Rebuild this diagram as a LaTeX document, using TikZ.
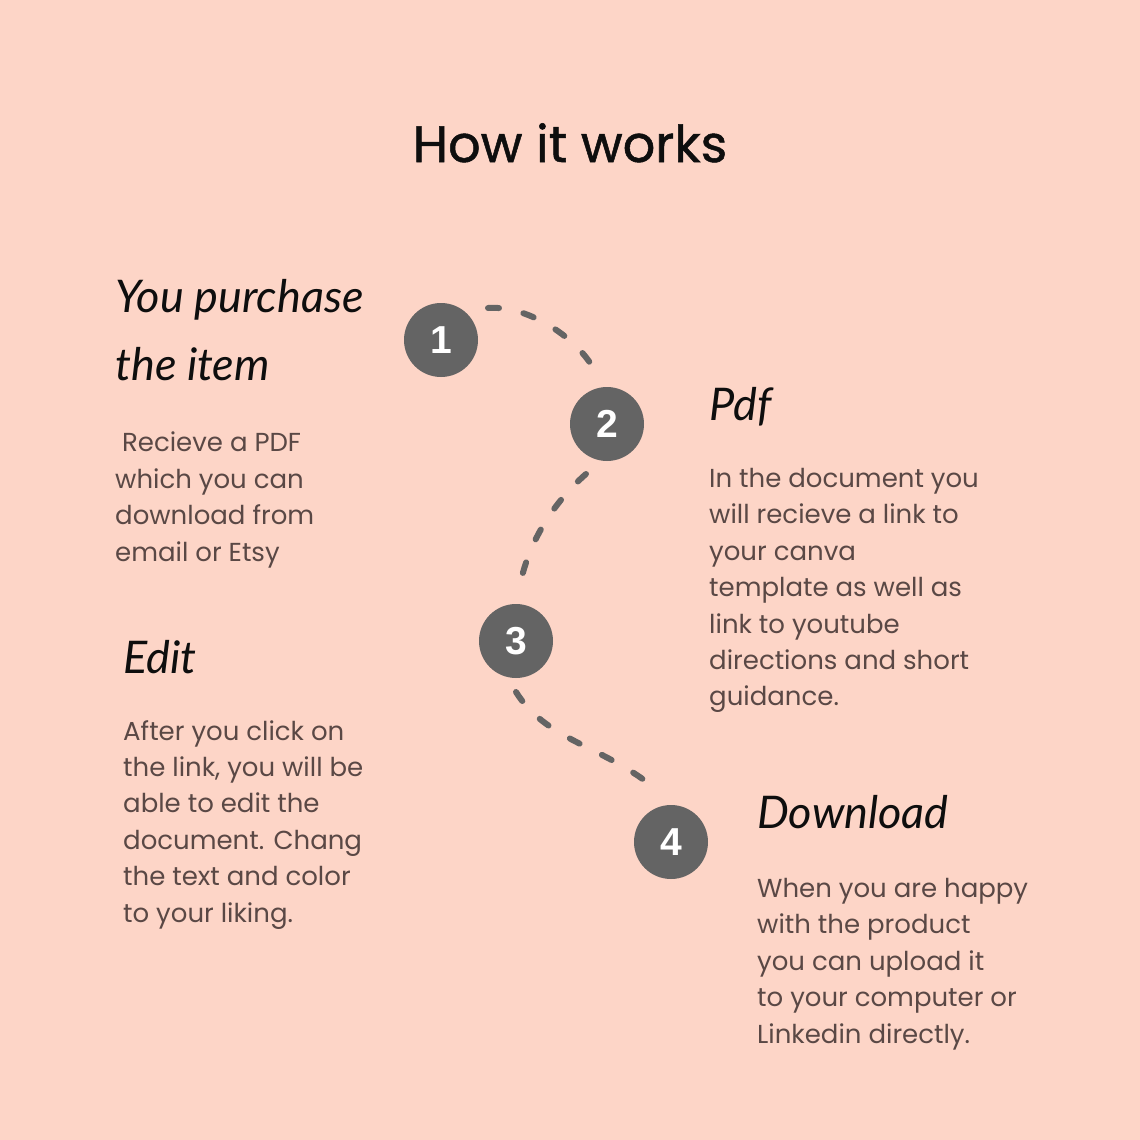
\documentclass[tikz,border=0pt]{standalone}
\usepackage{fontspec}
\setmainfont{Poppins}
\newfontfamily\handfont{Lato}
\newfontfamily\titlefont{Poppins}[FakeBold=1]
\newfontfamily\numfont{Liberation Sans}
\usetikzlibrary{calc}
\definecolor{bgpeach}{HTML}{FDD5C7}
\definecolor{circgray}{HTML}{646464}
\definecolor{bodytxt}{HTML}{5A4845}
\definecolor{headtxt}{HTML}{0E0E0E}
\tikzset{
  stepcircle/.style={circle, fill=circgray, minimum size=74pt, inner sep=0pt,
    text=white, font=\numfont\bfseries\fontsize{39}{39}\selectfont},
  heading/.style={anchor=base west, inner sep=0pt, text=headtxt, align=left,
    font=\handfont\itshape\fontsize{45}{68}\selectfont},
  bodytext/.style={anchor=north west, inner sep=0pt, text=bodytxt, align=left,
    font=\fontsize{26}{36.4}\selectfont},
  dashpath/.style={draw=circgray, line width=6pt, line cap=round,
    dash pattern=on 11pt off 25pt},
}
\begin{document}
\begin{tikzpicture}[x=1pt,y=-1pt]
\fill[bgpeach] (0,0) rectangle (1140,1140);
\useasboundingbox (0,0) rectangle (1140,1140);

\node[anchor=base, inner sep=0pt, text=headtxt, font=\titlefont\fontsize{51}{51}\selectfont] (title) at (570,162) {How it works};

\node[stepcircle] (n1) at (441,340) {1};
\node[stepcircle] (n2) at (607,424) {2};
\node[stepcircle] (n3) at (516,641) {3};
\node[stepcircle] (n4) at (671,842) {4};

\coordinate (a1) at ($(n1)+(47,-32)$);
\coordinate (b1) at ($(n2)+(-11,-51)$);
\coordinate (a2) at ($(n2)+(-21,50)$);
\coordinate (b2) at ($(n3)+(2,-44)$);
\coordinate (a3) at ($(n3)+(0,51)$);
\coordinate (b3) at ($(n4)+(-19,-56)$);

\draw[dashpath] (a1) .. controls ($(a1)+(42,-3)$) and ($(b1)+(-16,-33)$) .. (b1);
\draw[dashpath] (a2) .. controls ($(a2)+(-31,27)$) and ($(b2)+(7,-53)$) .. (b2);
\draw[dashpath] (a3) .. controls ($(a3)+(30,48)$) and ($(b3)+(-52,-41)$) .. (b3);

\node[heading] (h1) at (115,380) {You purchase\\the item};
\node[bodytext] (t1) at (115,432) {\ Recieve a PDF\\which you can\\download from\\email or Etsy};

\node[heading] (h2) at (709,420) {Pdf};
\node[bodytext] (t2) at (709,468) {In the document you\\will recieve a link to\\your canva\\template as well as\\link to youtube\\directions and short\\guidance.};

\node[heading] (h3) at (123,673) {Edit};
\node[bodytext] (t3) at (123,720) {After you click on\\the link, you will be\\able to edit the\\document. Chang\\the text and color\\to your liking.};

\node[heading] (h4) at (757,828) {Download};
\node[bodytext] (t4) at (757,878) {When you are happy\\with the product\\you can upload it\\to your computer or\\Linkedin directly.};
\end{tikzpicture}
\end{document}
